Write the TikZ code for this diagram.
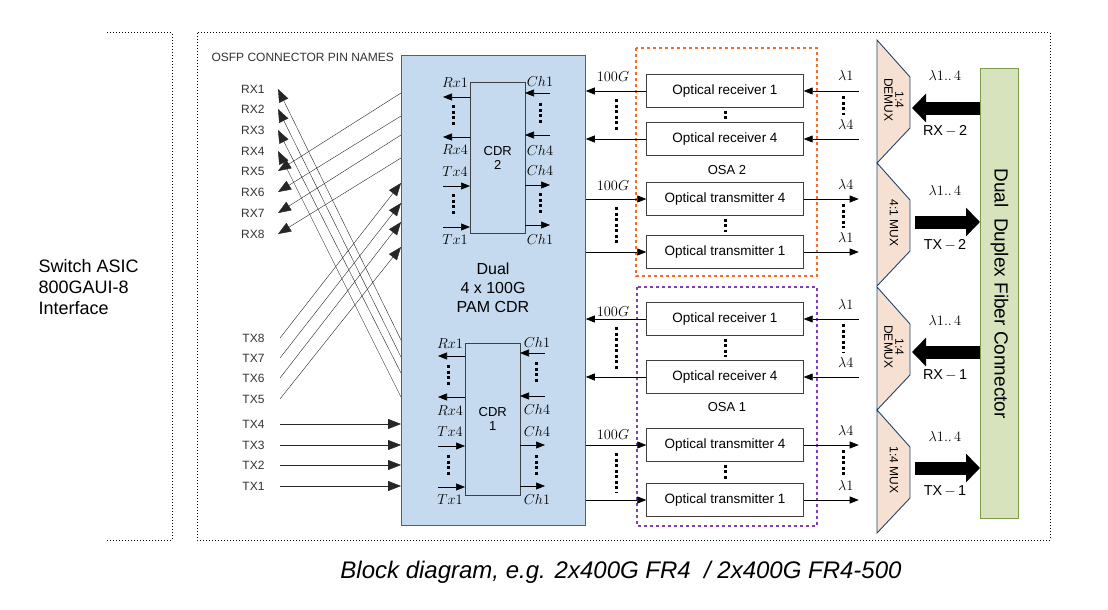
\documentclass[tikz,border=0pt]{standalone}
\usepackage{fontspec}
\setmainfont{Liberation Sans}
\usetikzlibrary{arrows.meta,positioning}
\definecolor{cdrblue}{RGB}{197,218,238}
\definecolor{cdredge}{RGB}{60,100,140}
\definecolor{muxfill}{RGB}{246,224,210}
\definecolor{muxedge}{RGB}{30,70,110}
\definecolor{fibfill}{RGB}{214,227,188}
\definecolor{fibedge}{RGB}{125,155,75}
\definecolor{osaorange}{RGB}{240,110,40}
\definecolor{osapurple}{RGB}{130,60,190}
\tikzset{
  pin/.style={font=\fontsize{12}{13}\selectfont, text=black!80, anchor=east},
  pinarrow/.style={-{Triangle[length=13pt,width=10pt]}, black!85},
  sig/.style={-{Triangle[length=9pt,width=7pt]}, line width=0.6pt},
  optbox/.style={draw=black!75, minimum width=157pt, minimum height=33pt, font=\fontsize{13.5}{14}\selectfont, inner sep=0pt},
  vdot/.style={line width=3pt, dash pattern=on 3pt off 2.5pt},
  mlabel/.style={font=\fontsize{14.4}{15}\selectfont, inner sep=1pt},
  bigarrow/.style={line width=13pt, -{Triangle[length=14pt,width=28pt]}, black},
}
\begin{document}
\begin{tikzpicture}[x=1pt,y=-1pt]
\useasboundingbox (0,0) rectangle (1108,610);

% frames
\draw[dotted, line width=1pt] (197,33) rectangle (1050,540);
\draw[dotted, line width=1pt] (107,33) -- (172,33) -- (172,540) -- (107,540);
\node[align=left, anchor=west, font=\fontsize{18}{21}\selectfont] (asic) at (35,287) {Switch ASIC\\800GAUI-8\\Interface};
\node[anchor=west, font=\fontsize{12}{13}\selectfont, text=black!80] (pinnames) at (208,57) {OSFP CONNECTOR PIN NAMES};

% CDR block
\node[draw=cdredge, fill=cdrblue, line width=0.8pt, minimum width=184pt, minimum height=470pt, anchor=north west, inner sep=0pt] (cdr) at (401,55) {};
\node[align=center, font=\fontsize{16}{19}\selectfont] (cdrtxt) at (493,288) {Dual\\4 x 100G\\PAM CDR};
\node[draw=black!75, minimum width=55pt, minimum height=151pt, anchor=north west, inner sep=0pt, font=\fontsize{13}{14}\selectfont, align=center] (cdrb) at (470,82) {CDR\\2};
\node[draw=black!75, minimum width=55pt, minimum height=152pt, anchor=north west, inner sep=0pt, font=\fontsize{13}{14}\selectfont, align=center] (cdra) at (465,343) {CDR\\1};

% CDR 2 lanes
\draw[sig] (470,97) -- (443,97);
\draw[sig] (470,137) -- (443,137);
\draw[sig] (443,186) -- (470,186);
\draw[sig] (443,227) -- (470,227);
\draw[sig] (550,93) -- (525,93);
\draw[sig] (550,135) -- (525,135);
\draw[sig] (525,185) -- (550,185);
\draw[sig] (525,225) -- (550,225);
\node[mlabel] at (455,83) {$Rx1$};
\node[mlabel] at (455,150) {$Rx4$};
\node[mlabel] at (455,172) {$Tx4$};
\node[mlabel] at (455,240) {$Tx1$};
\node[mlabel] at (540,81) {$Ch1$};
\node[mlabel] at (540,150) {$Ch4$};
\node[mlabel] at (540,170) {$Ch4$};
\node[mlabel] at (540,239) {$Ch1$};
\draw[vdot] (453,105) -- (453,126);
\draw[vdot] (453,194) -- (453,215);
\draw[vdot] (540,103) -- (540,124);
\draw[vdot] (540,193) -- (540,214);

% CDR 1 lanes
\draw[sig] (465,356) -- (438,356);
\draw[sig] (465,397) -- (438,397);
\draw[sig] (438,446) -- (465,446);
\draw[sig] (438,487) -- (465,487);
\draw[sig] (545,353) -- (520,353);
\draw[sig] (545,396) -- (520,396);
\draw[sig] (520,445) -- (545,445);
\draw[sig] (520,486) -- (545,486);
\node[mlabel] at (450,344) {$Rx1$};
\node[mlabel] at (450,411) {$Rx4$};
\node[mlabel] at (450,432) {$Tx4$};
\node[mlabel] at (450,500) {$Tx1$};
\node[mlabel] at (537,342) {$Ch1$};
\node[mlabel] at (537,409) {$Ch4$};
\node[mlabel] at (537,431) {$Ch4$};
\node[mlabel] at (537,499) {$Ch1$};
\draw[vdot] (448,365) -- (448,386);
\draw[vdot] (448,455) -- (448,476);
\draw[vdot] (536,362) -- (536,383);
\draw[vdot] (536,455) -- (536,476);

% pins
\foreach \i/\y in {1/89,2/109,3/130,4/151,5/171,6/192,7/213,8/234}
  \node[pin] (rx\i) at (268,\y) {RX\i};
\foreach \i/\y in {8/338,7/358,6/378,5/399,4/424,3/445,2/465,1/486}
  \node[pin] (tx\i) at (268,\y) {TX\i};
% RX1..4 from lower lanes, RX5..8 from upper lanes
\foreach \i/\y in {1/340,2/357,3/373,4/397}
  \draw[pinarrow] (cdr.west |- 0,\y) -- ([xshift=10pt]rx\i.east);
\foreach \i/\y in {5/93,6/116,7/135,8/158}
  \draw[pinarrow] (cdr.west |- 0,\y) -- ([xshift=10pt]rx\i.east);
\foreach \i/\y in {8/183,7/203,6/222,5/247}
  \draw[pinarrow] ([xshift=12pt]tx\i.east) -- (cdr.west |- 0,\y);
\foreach \i in {1,...,4}
  \draw[pinarrow] ([xshift=12pt]tx\i.east) -- (cdr.west |- tx\i);

% OSA boxes
\draw[osaorange, dashed, line width=1.5pt] (636,48) rectangle (817,276);
\draw[osapurple, dashed, line width=1.5pt] (637,287) rectangle (817,526);
\node[font=\fontsize{13}{14}\selectfont\rmfamily] (osab) at (727,170) {OSA 2};
\node[font=\fontsize{13}{14}\selectfont\rmfamily] (osaa) at (727,407) {OSA 1};

\foreach \n/\y/\t in {rxba/91/Optical receiver 1, rxbd/139/Optical receiver 4,
    txbd/199/Optical transmitter 4, txba/252/Optical transmitter 1,
    rxaa/319/Optical receiver 1, rxad/377/Optical receiver 4,
    txad/445/Optical transmitter 4, txaa/500/Optical transmitter 1}
  \node[optbox] (\n) at (725,\y) {\t};

% receivers
\foreach \n in {rxba, rxbd, rxaa, rxad} {
  \draw[sig] ([xshift=55pt]\n.east) -- (\n.east);
  \draw[sig] (\n.west) -- (cdr.east |- \n);
}
% transmitters
\foreach \n in {txbd, txba, txad, txaa} {
  \draw[sig] (cdr.east |- \n) -- (\n.west);
  \draw[sig] (\n.east) -- ([xshift=55pt]\n.east);
}
\foreach \n/\l in {rxba/1, rxbd/4, rxaa/1, rxad/4, txbd/4, txba/1, txad/4, txaa/1}
  \node[mlabel, fill=white, inner sep=0.5pt] at ([xshift=42pt,yshift=15pt]\n.east) {$\lambda\l$};
\node[mlabel] at (613,77) {$100G$};
\node[mlabel] at (613,186) {$100G$};
\node[mlabel] at (613,312) {$100G$};
\node[mlabel] at (613,435) {$100G$};
\foreach \a/\b in {rxba/rxbd, txbd/txba, rxaa/rxad, txad/txaa} {
  \draw[vdot] ([yshift=-3pt]\a.south) -- ([yshift=3pt]\b.north);
  \draw[vdot] ([xshift=-30pt,yshift=-8pt]\a.west) -- ([xshift=-30pt,yshift=8pt]\b.west);
  \draw[vdot] ([xshift=40pt,yshift=-5pt]\a.east) -- ([xshift=40pt,yshift=24pt]\b.east);
}

% mux / demux
\foreach \t/\txt in {40/{1:4\\DEMUX}, 163/{4:1 MUX}, 287/{1:4\\DEMUX}, 410/{1:4 MUX}} {
  \draw[muxedge, fill=muxfill, line width=0.9pt] (877,\t) -- (910,\t+37) -- (910,\t+88) -- (877,\t+123) -- cycle;
  \node[rotate=-90, align=center, font=\fontsize{12}{11}\selectfont, inner sep=0pt] at (894,\t+60) {\txt};
}

% fiber connector
\node[draw=fibedge, fill=fibfill, line width=1.2pt, minimum width=38pt, minimum height=450pt, anchor=north west, inner sep=0pt] (fib) at (980,68) {};
\node[rotate=-90, font=\fontsize{19}{20}\selectfont] at (fib.center) {Dual\ \ Duplex Fiber Connector};

\foreach \y/\l in {108/RX\,$-$\,2, 222/TX\,$-$\,2, 352/RX\,$-$\,1, 468/TX\,$-$\,1} {
  \node[mlabel] at (945,\y-32) {$\lambda1..\,4$};
  \node[mlabel, font=\fontsize{14.4}{15}\selectfont\rmfamily] at (945,\y+23) {\l};
}
\draw[bigarrow] (fib.west |- 0,108) -- (912,108);
\draw[bigarrow] (915,222) -- (fib.west |- 0,222);
\draw[bigarrow] (fib.west |- 0,352) -- (912,352);
\draw[bigarrow] (915,468) -- (fib.west |- 0,468);

% caption
\node[font=\fontsize{24}{26}\selectfont\itshape] (caption) at (621,572) {Block diagram, e.g. 2x400G FR4 \ / 2x400G FR4-500};
\end{tikzpicture}
\end{document}
